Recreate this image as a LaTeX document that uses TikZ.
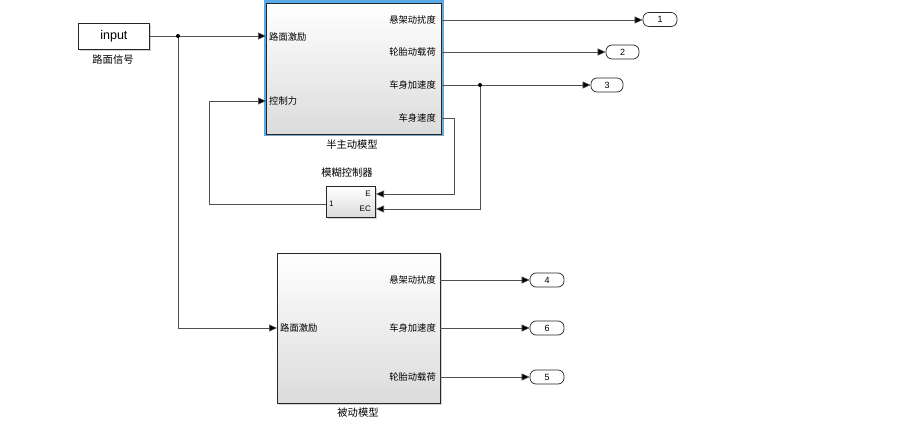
\documentclass[tikz,border=0pt]{standalone}
\usepackage{fontspec}
\newfontfamily\cjk{Noto Sans CJK SC}
\setsansfont{Liberation Sans}
\usetikzlibrary{arrows.meta,shadows}
\definecolor{selblue}{RGB}{86,170,230}
\definecolor{wire}{RGB}{80,80,80}
\begin{document}
\begin{tikzpicture}[x=1pt,y=-1pt,
  blk/.style={draw=black!85, line width=0.8pt, top color=white, middle color=white, bottom color=black!14,
    anchor=north west, inner sep=0pt, drop shadow={shadow xshift=1.2pt, shadow yshift=-1.2pt, fill=black!35}},
  plainblk/.style={draw=black!85, line width=0.8pt, fill=white, anchor=north west, inner sep=0pt,
    drop shadow={shadow xshift=1.2pt, shadow yshift=-1.2pt, fill=black!35}},
  outport/.style={draw=black!85, line width=0.7pt, fill=white, rounded corners=6pt, minimum width=34pt,
    minimum height=14pt, inner sep=0pt, font=\sffamily\fontsize{9}{10}\selectfont},
  plbl/.style={font=\cjk\fontsize{9.3}{10}\selectfont, inner sep=0pt},
  blbl/.style={font=\cjk\fontsize{10.3}{11}\selectfont, inner sep=0pt},
  slbl/.style={font=\sffamily\fontsize{8}{9}\selectfont, inner sep=0pt},
  sig/.style={draw=wire, line width=0.6pt, -{Triangle[length=8pt,width=7pt,fill=black]}},
  wireln/.style={draw=wire, line width=0.6pt},
  dot/.style={fill=black, radius=2pt}
]
\useasboundingbox (0,0) rectangle (918,435);

% input block
\node[plainblk, minimum width=71pt, minimum height=26pt] (inp) at (78,23) {};
\node[font=\sffamily\fontsize{12.5}{14}\selectfont, inner sep=0pt] (inptxt) at (inp.center) {input};
\node[blbl] (inplbl) at (113,60) {路面信号};

% semi-active block
\draw[selblue, line width=2.2pt] (264.6,1.6) rectangle (442.4,135.4);
\node[blk, minimum width=175pt, minimum height=131pt] (semi) at (266,3) {};
\node[blbl] (semilbl) at (352,145) {半主动模型};
\coordinate (semiin1) at (266,37);
\coordinate (semiin2) at (266,101);
\coordinate (semiout1) at (441,20);
\coordinate (semiout2) at (441,52);
\coordinate (semiout3) at (441,85);
\coordinate (semiout4) at (441,118);
\node[plbl, anchor=west] (s1) at (269,37) {路面激励};
\node[plbl, anchor=west] (s2) at (269,101) {控制力};
\node[plbl, anchor=east] (s3) at (436,20) {悬架动扰度};
\node[plbl, anchor=east] (s4) at (436,52) {轮胎动载荷};
\node[plbl, anchor=east] (s5) at (436,85) {车身加速度};
\node[plbl, anchor=east] (s6) at (436,118) {车身速度};

% fuzzy controller
\node[blk, minimum width=49pt, minimum height=31pt] (fz) at (326,186) {};
\node[blbl] (fzlbl) at (347,173) {模糊控制器};
\coordinate (fzin1) at (376,194);
\coordinate (fzin2) at (376,209);
\coordinate (fzout) at (326,204);
\node[slbl, anchor=east] (fzE) at (371,194) {E};
\node[slbl, anchor=east] (fzEC) at (371,209) {EC};
\node[slbl, anchor=west] (fz1) at (329,204) {1};

% passive block
\node[blk, minimum width=163pt, minimum height=150pt] (pas) at (277,253) {};
\node[blbl] (paslbl) at (358,413) {被动模型};
\coordinate (pasin) at (277,328);
\coordinate (pasout1) at (440,280);
\coordinate (pasout2) at (440,328);
\coordinate (pasout3) at (440,377);
\node[plbl, anchor=west] (p1) at (280,328) {路面激励};
\node[plbl, anchor=east] (p2) at (436,280) {悬架动扰度};
\node[plbl, anchor=east] (p3) at (436,328) {车身加速度};
\node[plbl, anchor=east] (p4) at (436,377) {轮胎动载荷};

% outports
\node[outport] (o1) at (660,19.5) {1};
\node[outport, minimum width=33pt] (o2) at (622.5,52) {2};
\node[outport, minimum width=32pt] (o3) at (607,85) {3};
\node[outport] (o4) at (547,280) {4};
\node[outport] (o6) at (547,328) {6};
\node[outport] (o5) at (547,377) {5};

% junctions
\coordinate (j1) at (178,36);
\coordinate (j2) at (480,85);
\coordinate (b1) at (178,328);
\coordinate (b2) at (454,118);
\coordinate (b3) at (454,194);
\coordinate (b4) at (480,209);
\coordinate (b5) at (209,204);
\coordinate (b6) at (209,101);

% wires
\draw[wireln] (inp.east |- j1) -- (j1);
\draw[sig] (j1) -- (semiin1 |- j1);
\draw[sig] (j1) -- (b1) -- (pasin);
\draw[sig] (semiout1) -- (o1.west |- semiout1);
\draw[sig] (semiout2) -- (o2.west);
\draw[wireln] (semiout3) -- (j2);
\draw[sig] (j2) -- (o3.west);
\draw[sig] (semiout4) -- (b2) -- (b3) -- (fzin1);
\draw[sig] (j2) -- (b4) -- (fzin2);
\draw[sig] (fzout) -- (b5) -- (b6) -- (semiin2);
\draw[sig] (pasout1) -- (o4.west);
\draw[sig] (pasout2) -- (o6.west);
\draw[sig] (pasout3) -- (o5.west);
\fill[dot] (j1) circle;
\fill[dot] (j2) circle;
\end{tikzpicture}
\end{document}
